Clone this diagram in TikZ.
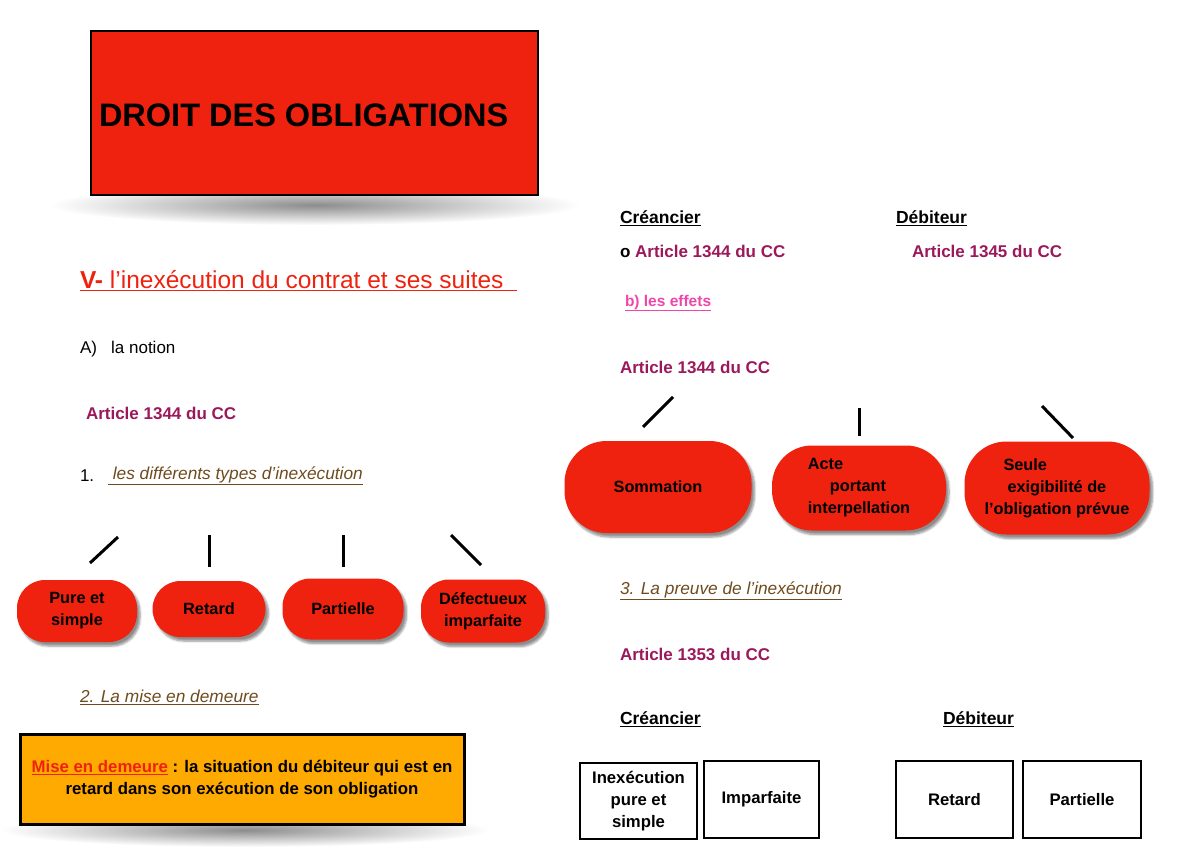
\documentclass[tikz,border=0pt]{standalone}
\usepackage{fontspec}
\setmainfont{Liberation Sans}
\usetikzlibrary{shadows.blur}
\definecolor{rouge}{RGB}{238,34,14}
\definecolor{jaune}{RGB}{255,170,0}
\definecolor{prune}{RGB}{155,24,90}
\definecolor{brun}{RGB}{110,75,30}
\definecolor{rose}{RGB}{240,70,170}
\begin{document}
\begin{tikzpicture}[x=1pt, y=-1pt,
        every node/.style={inner sep=0pt, outer sep=0pt, font=\fontsize{17}{22}\selectfont},
        article/.style={anchor=west, text=prune, font=\fontsize{17}{22}\selectfont\bfseries},
        soustitre/.style={anchor=west, text=brun, font=\fontsize{17.3}{22}\selectfont\itshape},
        partie/.style={anchor=west, font=\fontsize{17.5}{22}\selectfont\bfseries},
        pilule/.style={fill=rouge, rounded corners=#1, align=center,
            font=\fontsize{16.3}{22}\selectfont\bfseries,
            blur shadow={shadow xshift=3pt, shadow yshift=-4pt, shadow blur steps=6, shadow opacity=45}},
        pilule/.default=28pt,
        boite/.style={draw, line width=1.6pt, align=center, font=\fontsize{16.7}{22}\selectfont\bfseries},
        trait/.style={line width=3pt}]
        \useasboundingbox (0,0) rectangle (1200,848);
        % title box and its shadow
        \shade[inner color=black!45, outer color=white] (315,205) ellipse (265 and 20);
        \node[draw, line width=1.5pt, fill=rouge, minimum width=447pt, minimum height=164pt] (cadre) at (314.5,113) {};
        \node[anchor=west, font=\fontsize{32.5}{36}\selectfont\bfseries] (titre) at (99,115) {DROIT DES OBLIGATIONS};
        % left column
        \node[anchor=west, text=rouge, font=\fontsize{24.5}{28}\selectfont] (chapitre) at (80,281) {\underline{\textbf{V-} l’inexécution du contrat et ses suites\ \ }};
        \node[anchor=west] (notion) at (80,349) {A)\ \ \ la notion};
        \node[article] (art1) at (86,413) {Article 1344 du CC};
        \node[anchor=west] (num1) at (80,476) {1.};
        \node[soustitre] (types) at (108,476) {\underline{\ les différents types d’inexécution}};
        % types d'inexecution
        \node[pilule, minimum width=120pt, minimum height=62pt] (pure) at (77,611) {Pure et\\simple};
        \node[pilule, minimum width=113pt, minimum height=56pt] (retard) at (209,609) {Retard};
        \node[pilule, minimum width=121pt, minimum height=61pt] (partielle) at (343,609) {Partielle};
        \node[pilule, minimum width=124pt, minimum height=63pt] (defaut) at (483,611) {Défectueux\\imparfaite};
        \coordinate (t1a) at (90,563);   \coordinate (t1b) at (118,537);
        \coordinate (t2a) at (209,567);  \coordinate (t2b) at (209,535);
        \coordinate (t3a) at (343,567);  \coordinate (t3b) at (343,535);
        \coordinate (t4a) at (481,565);  \coordinate (t4b) at (451,535);
        \draw[trait] (t1a) -- (t1b);
        \draw[trait] (t2a) -- (t2b);
        \draw[trait] (t3a) -- (t3b);
        \draw[trait] (t4a) -- (t4b);
        % mise en demeure
        \node[soustitre] (demeure) at (80,697) {\underline{2. La mise en demeure}};
        \shade[inner color=black!45, outer color=white] (245,830) ellipse (245 and 17);
        \node[draw, line width=3pt, fill=jaune, minimum width=444pt, minimum height=90pt, align=center,
            font=\fontsize{16.8}{22}\selectfont\bfseries] (definition) at (242,779)
            {\textcolor{rouge}{\underline{Mise en demeure}} : la situation du débiteur qui est en\\retard dans son exécution de son obligation};
        % right column
        \node[partie] (cre1) at (620,218) {\underline{Créancier}};
        \node[partie] (deb1) at (896,218) {\underline{Débiteur}};
        \node[article] (art2) at (620,251) {\textcolor{black}{o} Article 1344 du CC};
        \node[article] (art3) at (912,251) {Article 1345 du CC};
        \node[anchor=west, text=rose, font=\fontsize{15.5}{18}\selectfont\bfseries] (effets) at (625,303) {\underline{b) les effets}};
        \node[article] (art4) at (620,367) {Article 1344 du CC};
        % effets
        \node[pilule=42pt, minimum width=187pt, minimum height=92pt] (sommation) at (658,487) {Sommation};
        \node[pilule=40pt, minimum width=174pt, minimum height=85pt, align=left] (acte) at (859,488) {Acte\\\hspace{22pt}portant\\interpellation};
        \node[pilule=42pt, minimum width=185pt, minimum height=93pt, align=left] (seule) at (1057,488) {\hspace{19pt}Seule\\\hspace{23pt}exigibilité de\\l’obligation prévue};
        \coordinate (e1a) at (643,427);  \coordinate (e1b) at (673,397);
        \coordinate (e2a) at (859,436);  \coordinate (e2b) at (859,408);
        \coordinate (e3a) at (1073,438); \coordinate (e3b) at (1042,406);
        \draw[trait] (e1a) -- (e1b);
        \draw[trait] (e2a) -- (e2b);
        \draw[trait] (e3a) -- (e3b);
        % preuve
        \node[soustitre] (preuve) at (620,591) {\underline{3. La preuve de l’inexécution}};
        \node[article] (art5) at (620,654) {Article 1353 du CC};
        \node[partie] (cre2) at (620,719) {\underline{Créancier}};
        \node[partie] (deb2) at (943,719) {\underline{Débiteur}};
        \node[boite, minimum width=117pt, minimum height=76pt] (pureb) at (638.5,801) {Inexécution\\pure et\\simple};
        \node[boite, minimum width=115pt, minimum height=77pt] (imparfaite) at (761.5,799.5) {Imparfaite};
        \node[boite, minimum width=117pt, minimum height=77pt] (retardb) at (954.5,799.5) {Retard};
        \node[boite, minimum width=118pt, minimum height=77pt] (partielleb) at (1082,799.5) {Partielle};
    \end{tikzpicture}
\end{document}
